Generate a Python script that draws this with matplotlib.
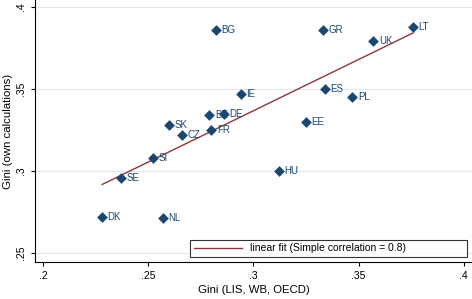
import numpy as np
import matplotlib
matplotlib.use("Agg")
import matplotlib.pyplot as plt

plt.rcParams['font.family'] = ['Liberation Sans', 'DejaVu Sans']

countries = ["BG", "SK", "CZ", "BE", "DE", "FR", "IE", "GR", "LT", "UK",
             "ES", "PL", "EE", "SI", "SE", "DK", "NL", "HU"]
gini_lis = [0.282, 0.260, 0.266, 0.279, 0.286, 0.280, 0.294, 0.333, 0.376, 0.357,
            0.334, 0.347, 0.325, 0.252, 0.237, 0.228, 0.257, 0.312]
gini_own = [0.386, 0.328, 0.322, 0.334, 0.335, 0.325, 0.347, 0.386, 0.388, 0.379,
            0.350, 0.345, 0.330, 0.308, 0.296, 0.272, 0.271, 0.300]

x = np.array(gini_lis)
y = np.array(gini_own)
slope, intercept = np.polyfit(x, y, 1)
xfit = np.array([x.min(), x.max()])
yfit = slope * xfit + intercept

navy = "#1a476f"
maroon = "#90353b"

fig = plt.figure(figsize=(4.72, 2.99), dpi=100)
ax = fig.add_axes([0.074, 0.124, 0.926, 0.876])

for t in [0.25, 0.3, 0.35, 0.4]:
    ax.axhline(t, color="#dfe9ec", lw=0.8, zorder=0)

ax.scatter(x, y, marker="D", s=30, color=navy, zorder=3, linewidths=0)
for c, xi, yi in zip(countries, x, y):
    ax.annotate(c, (xi, yi), xytext=(4, 0), textcoords="offset points",
                va="center", ha="left", fontsize=7, color=navy, zorder=4)

ax.plot(xfit, yfit, color=maroon, lw=1.0, zorder=2,
        label="linear fit (Simple correlation = 0.8)")

ax.set_xlim(0.196, 0.404)
ax.set_ylim(0.2445, 0.4043)
ax.set_xticks([0.2, 0.25, 0.3, 0.35, 0.4])
ax.set_xticklabels([".2", ".25", ".3", ".35", ".4"])
ax.set_yticks([0.25, 0.3, 0.35, 0.4])
ax.set_yticklabels([".25", ".3", ".35", ".4"], rotation=90, va="center")
ax.tick_params(labelsize=7.5, length=3, width=0.8, colors="black")
ax.spines["top"].set_visible(False)
ax.spines["right"].set_visible(False)
ax.set_xlabel("Gini (LIS, WB, OECD)", fontsize=8.2, labelpad=3)
ax.set_ylabel("Gini (own calculations)", fontsize=8.2, labelpad=2)

leg = ax.legend(loc="lower left", bbox_to_anchor=(0.355, 0.019, 0.634, 0.08),
                mode="expand", fontsize=7.5, frameon=True, fancybox=False,
                edgecolor="black", handlelength=4.6, handletextpad=0.8,
                borderpad=0.35, borderaxespad=0)
leg.get_frame().set_linewidth(0.8)

fig.savefig("out.png", dpi=100)
